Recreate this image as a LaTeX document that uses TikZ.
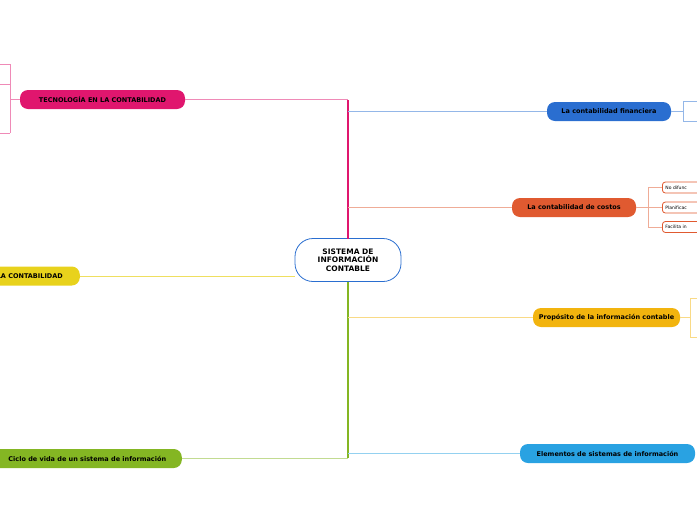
\documentclass[tikz,border=0pt]{standalone}
\usepackage{fontspec}
\setmainfont{DejaVu Sans}
\begin{document}
\begin{tikzpicture}[x=1pt,y=-1pt,
 pill/.style={rounded corners=8pt,minimum height=19pt,inner sep=0pt,font=\bfseries\fontsize{6.5}{7}\selectfont,text=black},
 leaf/.style={draw=#1,rounded corners=3pt,fill=white,minimum height=11pt,minimum width=50pt,inner sep=2pt,font=\fontsize{4.5}{5}\selectfont,anchor=west,text width=44pt,align=left,line width=0.8pt}]
\useasboundingbox (0,0) rectangle (697,520);
\clip (0,0) rectangle (697,520);
\definecolor{cpink}{HTML}{E0166E}
\definecolor{cyel}{HTML}{E8D21C}
\definecolor{cgreen}{HTML}{84B623}
\definecolor{cblue}{HTML}{2A6ED0}
\definecolor{corange}{HTML}{E05A30}
\definecolor{cgold}{HTML}{F2B40E}
\definecolor{csky}{HTML}{29A2E2}
% central
\node[draw=cblue,line width=0.8pt,rounded corners=18pt,minimum width=106pt,minimum height=43pt,align=center,font=\bfseries\fontsize{7.5}{8.5}\selectfont,fill=white] (c) at (348,260) {SISTEMA DE\\INFORMACIÓN\\CONTABLE};
% main nodes
\node[pill,fill=cpink,minimum width=165pt] (t) at (102.5,99.5) {TECNOLOGÍA EN LA CONTABILIDAD};
\node[pill,fill=cyel,minimum width=130pt,anchor=east] (h) at (80,276) {\hspace*{30pt}LA CONTABILIDAD};
\node[pill,fill=cgreen,minimum width=192pt,anchor=east] (v) at (182,458.5) {\hspace*{3pt}Ciclo de vida de un sistema de información};
\node[pill,fill=cblue,minimum width=124pt] (f) at (609,111.5) {La contabilidad financiera};
\node[pill,fill=corange,minimum width=124pt] (k) at (574,207.5) {La contabilidad de costos};
\node[pill,fill=cgold,minimum width=147pt] (p) at (606.5,317.5) {Propósito de la información contable};
\node[pill,fill=csky,minimum width=175pt] (e) at (607.5,453.5) {Elementos de sistemas de información};
% spine
\draw[cpink,line width=1.2pt] (348,100) -- (348,239);
\draw[cgreen,line width=1.2pt] (348,282) -- (348,458);
% connectors
\draw[cpink!50,line width=0.7pt] (t.east) -- (348,99.5);
\draw[cblue!50,line width=0.7pt] (348,111.5) -- (f.west);
\draw[corange!50,line width=0.7pt] (348,207.5) -- (k.west);
\draw[cyel!70,line width=0.7pt] (c.west |- 0,276) -- (h.east);
\draw[cgold!50,line width=0.7pt] (348,317.5) -- (p.west);
\draw[csky!50,line width=0.7pt] (348,453.5) -- (e.west);
\draw[cgreen!50,line width=0.7pt] (v.east) -- (348,458.5);
% left bracket
\coordinate (lb) at (10,99.5);
\draw[cpink!50,line width=0.7pt] (t.west) -- (lb) (10,64) -- (10,133) (10,64) -- (0,64) (10,84) -- (0,84) (10,133) -- (0,133);
% financiera bracket
\draw[cblue!50,line width=0.7pt] (f.east) -- (683,111.5) (683,101) -- (683,121) (683,101) -- (697,101) (683,121) -- (697,121);
% propósito bracket
\draw[cgold!50,line width=0.7pt] (p.east) -- (690,317.5) (690,298) -- (690,337) (690,298) -- (697,298) (690,337) -- (697,337);
% costos leaves
\node[leaf=corange] (l1) at (662,187.5) {No difunc};
\node[leaf=corange] (l2) at (662,207.5) {Planificac};
\node[leaf=corange] (l3) at (662,227) {Facilita in};
\draw[corange!50,line width=0.7pt] (k.east) -- (l2.west);
\draw[corange!50,line width=0.7pt] (648,187.5) -- (648,227);
\draw[corange!50,line width=0.7pt] (648,187.5) -- (l1.west);
\draw[corange!50,line width=0.7pt] (648,227) -- (l3.west);
\end{tikzpicture}
\end{document}
